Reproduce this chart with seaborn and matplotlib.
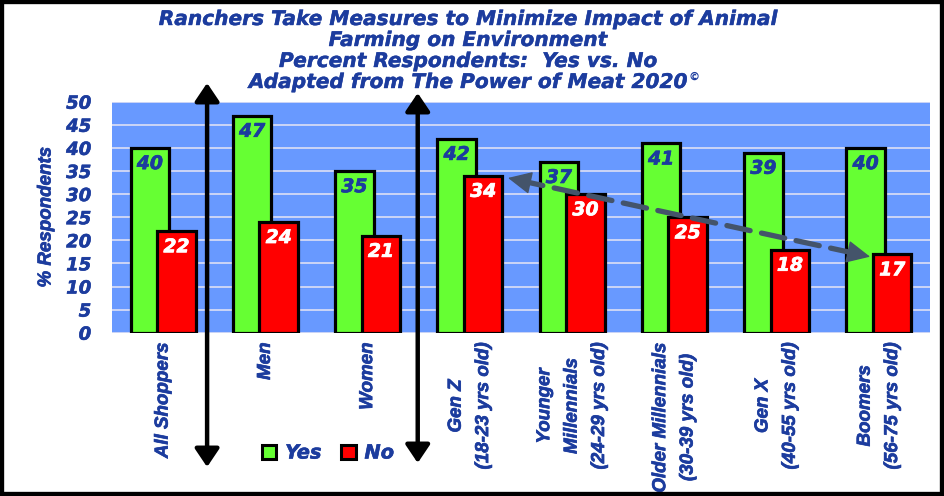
import matplotlib
matplotlib.use('Agg')
import matplotlib.pyplot as plt
import matplotlib.patheffects as pe
import seaborn as sns
import pandas as pd
from matplotlib.patches import Rectangle

# ---------------- data ----------------
categories = ["All Shoppers", "Men", "Women", "Gen Z\n(18-23 yrs old)",
              "Younger\nMillennials\n(24-29 yrs old)",
              "Older Millennials\n(30-39 yrs old)",
              "Gen X\n(40-55 yrs old)", "Boomers\n(56-75 yrs old)"]
series = ["Yes", "No"]
yes_values = [40, 47, 35, 42, 37, 41, 39, 40]
no_values = [22, 24, 21, 34, 30, 25, 18, 17]
y_ticks = [0, 5, 10, 15, 20, 25, 30, 35, 40, 45, 50]
title_lines = ["Ranchers Take Measures to Minimize Impact of Animal",
               "Farming on Environment",
               "Percent Respondents:  Yes vs. No",
               "Adapted from The Power of Meat 2020"]
y_label = "% Respondents"

df = pd.DataFrame({
    "group": categories * 2,
    "answer": ["Yes"] * len(categories) + ["No"] * len(categories),
    "value": yes_values + no_values,
})

DARK = "#1C3C9E"
sns.set_theme(style="white")
plt.rcParams["font.family"] = ["DejaVu Sans"]


def heavy(color, w=0.6):
    return [pe.withStroke(linewidth=w, foreground=color)]


W, H = 944, 496
fig = plt.figure(figsize=(W / 100, H / 100), dpi=100)
fig.patch.set_facecolor("white")
ax = fig.add_axes([112 / W, 1 - 332.7 / H, (930 - 112) / W, (332.7 - 101.7) / H])
ax.set_facecolor("#6899FF")

sns.barplot(data=df, x="group", y="value", hue="answer", order=categories,
            hue_order=series, palette={"Yes": "#66FF33", "No": "#FF0000"},
            saturation=1, edgecolor="black", linewidth=2.3, width=0.8,
            dodge=True, ax=ax, zorder=3)

# overlap bars like the original
bar_w = 0.375
offsets = {"Yes": -0.13, "No": 0.13}
for container, name in zip(ax.containers, series):
    for patch in container:
        c = patch.get_x() + patch.get_width() / 2
        g = round(c)
        patch.set_width(bar_w)
        patch.set_x(g + offsets[name] - bar_w / 2)

# value labels
label_colors = {"Yes": DARK, "No": "white"}
for container, name, vals in zip(ax.containers, series, [yes_values, no_values]):
    for patch, v in zip(container, vals):
        cx = patch.get_x() + patch.get_width() / 2
        ax.text(cx, v - 3.4, str(v), ha="center", va="center",
                color=label_colors[name], fontsize=13.5, fontweight="bold",
                fontstyle="italic", zorder=5,
                path_effects=heavy(label_colors[name], 0.5))

ax.set_ylim(0, 50)
ax.set_xlim(-0.5, len(categories) - 0.5)
ax.yaxis.grid(True, color="#D4DAF6", lw=1.3)
ax.xaxis.grid(False)
ax.set_axisbelow(True)
for s in ax.spines.values():
    s.set_visible(False)

ax.set_yticks(y_ticks)
ax.set_yticklabels([str(t) for t in y_ticks])
ax.tick_params(axis="y", length=0, pad=15, labelsize=13, labelcolor=DARK)
for lbl in ax.get_yticklabels():
    lbl.set_fontweight("bold")
    lbl.set_fontstyle("italic")
    lbl.set_path_effects(heavy(DARK, 0.4))

ax.set_xticks(range(len(categories)))
ax.set_xticklabels(categories, rotation=90, multialignment="center",
                   family=["Liberation Sans", "DejaVu Sans"], fontsize=13.5,
                   fontweight="bold", fontstyle="italic", color=DARK,
                   linespacing=1.8)
for lbl in ax.get_xticklabels():
    lbl.set_path_effects(heavy(DARK, 0.5))
ax.tick_params(axis="x", length=0, pad=7)
ax.set_xlabel("")

ax.set_ylabel(y_label, family=["Liberation Sans", "DejaVu Sans"], fontsize=13.5,
              fontweight="bold", fontstyle="italic", color=DARK,
              path_effects=heavy(DARK, 0.5))
ax.yaxis.label.set_va("center")
ax.yaxis.set_label_coords((46 - 112) / 818, 0.5)

# legend
handles, labels = ax.get_legend_handles_labels()
if ax.get_legend() is not None:
    ax.get_legend().remove()
for h in handles:
    h.set_edgecolor("black")
    h.set_linewidth(2.2)
leg = fig.legend(handles, labels, loc="center", bbox_to_anchor=(328 / W, 1 - 453 / H),
                 ncol=2, frameon=False, handlelength=0.75, handleheight=0.75,
                 columnspacing=1.0, handletextpad=0.45,
                 prop={"size": 14, "weight": "bold", "style": "italic"})
for t in leg.get_texts():
    t.set_color(DARK)
    t.set_path_effects(heavy(DARK, 0.4))

# vertical separator arrows
for xv, ytop, ybot in [(0.43, 83, 467), (2.49, 93, 463)]:
    ax.annotate("", xy=(xv, 1 - ytop / H), xycoords=("data", "figure fraction"),
                xytext=(xv, 1 - ybot / H), textcoords=("data", "figure fraction"),
                arrowprops=dict(arrowstyle="<|-|>,head_length=0.55,head_width=0.37",
                                color="black", lw=3.2, mutation_scale=20,
                                shrinkA=0, shrinkB=0),
                annotation_clip=False, zorder=7)

# dashed trend arrow: dashed shaft + solid heads
p_start = (3.373, 33.5)
p_end = (6.914, 16.45)
GRAY = "#44546A"
ax.annotate("", xy=p_start, xytext=p_end,
            arrowprops=dict(arrowstyle="-", color=GRAY, lw=3.8, ls=(0, (4.5, 2.2)),
                            shrinkA=12, shrinkB=12),
            zorder=6)
for tip, other in [(p_start, p_end), (p_end, p_start)]:
    tail = (tip[0] + 0.03 * (other[0] - tip[0]), tip[1] + 0.03 * (other[1] - tip[1]))
    ax.annotate("", xy=tip, xytext=tail,
                arrowprops=dict(arrowstyle="-|>,head_length=0.75,head_width=0.36",
                                color=GRAY, lw=1, mutation_scale=20,
                                shrinkA=0, shrinkB=0),
                zorder=6)

# title
baselines = [25, 46, 67, 88]
title_texts = []
for line, yb in zip(title_lines, baselines):
    t = fig.text(468 / W, 1 - yb / H, line, ha="center", va="baseline",
                 fontsize=14.5, fontweight="bold", fontstyle="italic", color=DARK,
                 path_effects=heavy(DARK, 0.3))
    title_texts.append(t)
fig.canvas.draw()
bb = title_texts[-1].get_window_extent()
fig.text(bb.x1 / W + 1 / W, 1 - 80 / H, "\u00a9", ha="left", va="baseline",
         fontsize=8, fontweight="bold", color=DARK)

# black frame
fig.add_artist(Rectangle((0, 0), 1, 1, transform=fig.transFigure, fill=False,
                         edgecolor="black", linewidth=6))

fig.savefig("out.png", dpi=100)
